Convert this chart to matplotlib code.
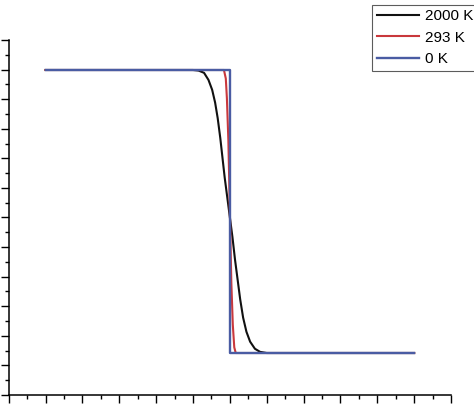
import matplotlib
matplotlib.use('Agg')
import matplotlib.pyplot as plt
import numpy as np

plt.rcParams['font.family'] = ['Liberation Sans', 'DejaVu Sans']

# energy (eV) and occupation
e_2000 = [1.0, 5.0, 5.15, 5.30, 5.42, 5.52, 5.60, 5.67, 5.74, 5.80, 5.86, 5.93,
          6.0, 6.07, 6.14, 6.21, 6.28, 6.36, 6.45, 6.55, 6.68, 6.82, 7.0, 11.0]
f_2000 = [1.0, 1.0, 0.998, 0.99, 0.965, 0.93, 0.885, 0.83, 0.76, 0.69, 0.62, 0.55,
          0.48, 0.41, 0.33, 0.26, 0.19, 0.125, 0.075, 0.04, 0.015, 0.004, 0.0, 0.0]

e_293 = [1.0, 5.84, 5.89, 5.92, 5.96, 6.0, 6.04, 6.08, 6.12, 6.16, 11.0]
f_293 = [1.0, 1.0, 0.97, 0.9, 0.75, 0.5, 0.25, 0.1, 0.02, 0.0, 0.0]

e_0 = [1.0, 6.0, 6.0, 11.0]
f_0 = [1.0, 1.0, 0.0, 0.0]

labels = ['2000 K', '293 K', '0 K']
colors = ['#111111', '#c9383c', '#4a5ca3']

fig = plt.figure(figsize=(4.74, 4.04), dpi=100)
ax = fig.add_axes([8.7 / 474, 1 - 395 / 404, (451 - 8.7) / 474, (395 - 40) / 404])

l1, = ax.plot(e_2000, f_2000, color=colors[0], lw=1.5, label=labels[0])
l2, = ax.plot(e_293, f_293, color=colors[1], lw=1.5, label=labels[1])
l3, = ax.plot(e_0, f_0, color=colors[2], lw=1.7, label=labels[2])

ymin, ymax = -0.1484, 1.106
ax.set_xlim(0, 12)
ax.set_ylim(ymin, ymax)
ax.set_xticks(np.arange(0, 13, 1))
ax.set_xticks(np.arange(0.5, 12, 1), minor=True)
ax.set_yticks(np.linspace(ymin, ymax, 13))
ax.set_yticks(np.linspace(ymin, ymax, 25), minor=True)

for s in ['top', 'right']:
    ax.spines[s].set_visible(False)
for s in ['left', 'bottom']:
    ax.spines[s].set_linewidth(1.1)

ax.tick_params(which='major', direction='out', length=6, width=1.0,
               labelleft=False, labelbottom=False)
ax.tick_params(which='minor', direction='out', length=3, width=1.0)

leg = fig.legend(handles=[l1, l2, l3], loc='lower left',
                 bbox_to_anchor=(372 / 474, 1 - 71 / 404), bbox_transform=fig.transFigure,
                 fontsize=11, frameon=True, fancybox=False, edgecolor='#333333',
                 handlelength=2.75, handletextpad=0.4, labelspacing=0.5,
                 borderpad=0.3, borderaxespad=0)
leg.get_frame().set_linewidth(0.8)

fig.savefig('out.png', dpi=100)
